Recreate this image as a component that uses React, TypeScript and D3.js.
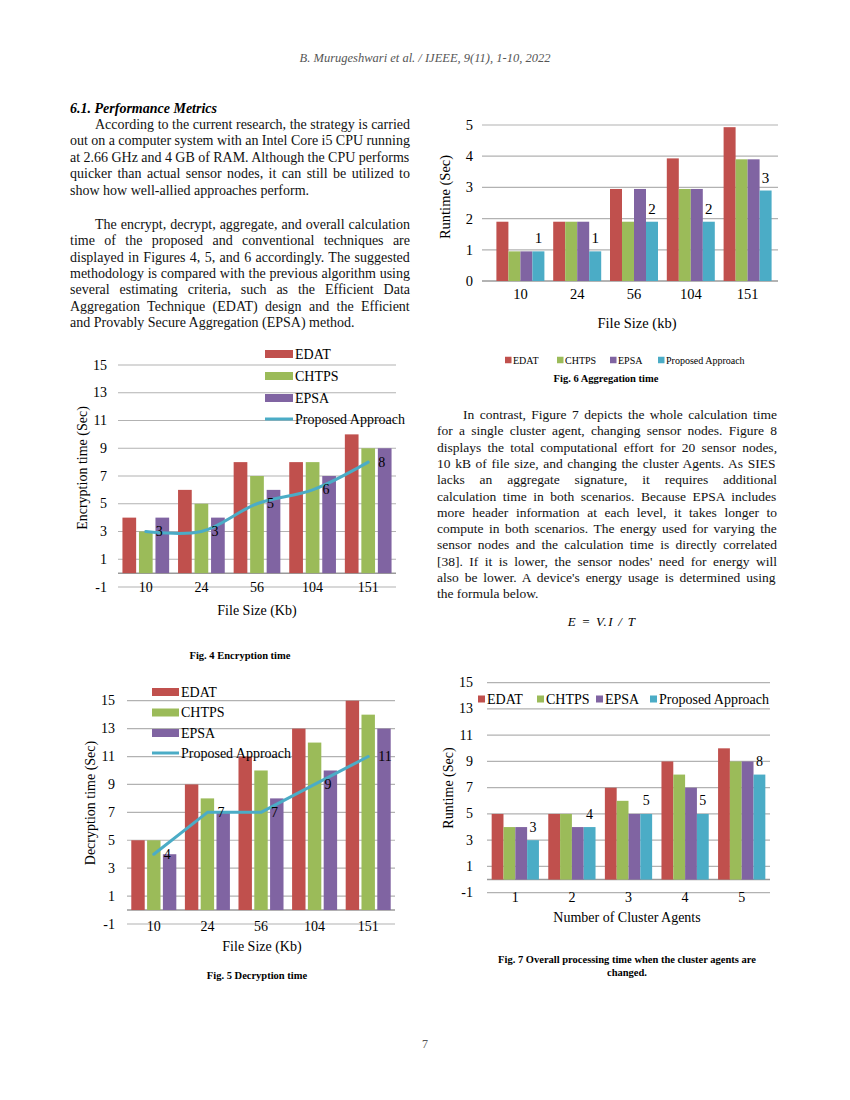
import React from "react";
import * as d3 from "d3";

// ---------- data ----------
const SERIES = ["EDAT", "CHTPS", "EPSA", "Proposed Approach"];
const COLORS = ["#c0504d", "#9bbb59", "#8064a2", "#4bacc6"];

const fileSizes = ["10", "24", "56", "104", "151"];
const clusterAgents = ["1", "2", "3", "4", "5"];

// Fig. 4 Encryption time
const encEDAT = [4, 6, 8, 8, 10];
const encCHTPS = [3, 5, 7, 8, 9];
const encEPSA = [4, 4, 6, 7, 9];
const encProposed = [3, 3, 5, 6, 8];

// Fig. 5 Decryption time
const decEDAT = [5, 9, 11, 13, 15];
const decCHTPS = [5, 8, 10, 12, 14];
const decEPSA = [4, 7, 8, 10, 13];
const decProposed = [4, 7, 7, 9, 11];

// Fig. 6 Aggregation time
const aggEDAT = [1.9, 1.9, 2.95, 3.93, 4.93];
const aggCHTPS = [0.95, 1.9, 1.9, 2.95, 3.9];
const aggEPSA = [0.95, 1.9, 2.95, 2.95, 3.9];
const aggProposed = [0.95, 0.95, 1.9, 1.9, 2.9];

// Fig. 7 Overall processing time
const totEDAT = [5, 5, 7, 9, 10];
const totCHTPS = [4, 5, 6, 8, 9];
const totEPSA = [4, 4, 5, 7, 9];
const totProposed = [3, 4, 5, 5, 8];

const oddTicks = [-1, 1, 3, 5, 7, 9, 11, 13, 15];
const aggTicks = [0, 1, 2, 3, 4, 5];

// ---------- page text ----------
const header = "B. Murugeshwari et al. / IJEEE, 9(11), 1-10, 2022";
const heading = "6.1. Performance Metrics";
const leftPara1 = [
  "According to the current research, the strategy is carried",
  "out on a computer system with an Intel Core i5 CPU running",
  "at 2.66 GHz and 4 GB of RAM. Although the CPU performs",
  "quicker than actual sensor nodes, it can still be utilized to",
  "show how well-allied approaches perform.",
];
const leftPara2 = [
  "The encrypt, decrypt, aggregate, and overall calculation",
  "time of the proposed and conventional techniques are",
  "displayed in Figures 4, 5, and 6 accordingly. The suggested",
  "methodology is compared with the previous algorithm using",
  "several estimating criteria, such as the Efficient Data",
  "Aggregation Technique (EDAT) design and the Efficient",
  "and Provably Secure Aggregation (EPSA) method.",
];
const rightPara = [
  "In contrast, Figure 7 depicts the whole calculation time",
  "for a single cluster agent, changing sensor nodes. Figure 8",
  "displays the total computational effort for 20 sensor nodes,",
  "10 kB of file size, and changing the cluster Agents. As SIES",
  "lacks an aggregate signature, it requires additional",
  "calculation time in both scenarios. Because EPSA includes",
  "more header information at each level, it takes longer to",
  "compute in both scenarios. The energy used for varying the",
  "sensor nodes and the calculation time is directly correlated",
  "[38]. If it is lower, the sensor nodes' need for energy will",
  "also be lower. A device's energy usage is determined using",
  "the formula below.",
];
const formula = "E = V.I / T";
const pageNumber = "7";

const FONT = "'Liberation Serif', 'Times New Roman', serif";
const GRID = "#b2b2b2";

let measureCtx: CanvasRenderingContext2D | null = null;
function measure(text: string, fs: number): number {
  if (typeof document === "undefined") return text.length * fs * 0.45;
  if (!measureCtx) {
    const c = document.createElement("canvas");
    measureCtx = c.getContext("2d");
  }
  if (!measureCtx) return text.length * fs * 0.45;
  measureCtx.font = `${fs}px 'Liberation Serif'`;
  return measureCtx.measureText(text).width;
}

type ChartCfg = {
  categories: string[];
  bars: number[][];
  barColors: string[];
  line?: number[];
  lineSmooth?: boolean;
  barLabels?: number[];
  xRange: [number, number];
  gridX: [number, number];
  yDomain: [number, number];
  yRange: [number, number];
  yTicks: number[];
  groupFrac: number;
  barGap: number;
  tickRight: number;
  xTickY: number;
  fs: number;
  xTitle: string;
  xTitlePos: [number, number];
  yTitle: string;
  yTitlePos: [number, number];
  labelFs: number;
  legend: {
    kind: "vertical" | "horizontal";
    x: number[];
    y: number[];
    swW: number;
    swH: number;
    textDx: number;
    fs: number;
  };
  caption: string[];
  captionPos: [number, number];
};

function Chart({ cfg }: { cfg: ChartCfg }) {
  const x0 = d3.scaleBand<string>().domain(cfg.categories).range(cfg.xRange).padding(0);
  const step = x0.bandwidth();
  const nb = cfg.bars.length;
  const inset = (step * (1 - cfg.groupFrac)) / 2;
  const x1 = d3
    .scaleBand<string>()
    .domain(d3.range(nb).map(String))
    .range([inset, step - inset])
    .paddingInner(cfg.barGap);
  const y = d3.scaleLinear().domain(cfg.yDomain).range(cfg.yRange);
  const cx = (c: string) => (x0(c) as number) + step / 2;

  const lineGen = d3
    .line<number>()
    .x((_, i) => cx(cfg.categories[i]))
    .y((d) => y(d))
    .curve(cfg.lineSmooth ? d3.curveCatmullRom.alpha(0.5) : d3.curveLinear);

  const gridVals = Array.from(new Set([...cfg.yTicks, 0]));
  const lg = cfg.legend;

  return (
    <g fontFamily={FONT} fill="#000">
      {gridVals.map((v) => (
        <line
          key={"g" + v}
          x1={cfg.gridX[0]}
          x2={cfg.gridX[1]}
          y1={y(v)}
          y2={y(v)}
          stroke={v === 0 ? "#9a9a9a" : GRID}
          strokeWidth={v === 0 ? 1.5 : 1.2}
        />
      ))}
      {cfg.yTicks.map((v) => (
        <text
          key={"yt" + v}
          x={cfg.tickRight}
          y={y(v)}
          fontSize={cfg.fs}
          textAnchor="end"
          dominantBaseline="central"
        >
          {v}
        </text>
      ))}
      {cfg.bars.map((vals, s) =>
        vals.map((v, i) => {
          const c = cfg.categories[i];
          const bx = (x0(c) as number) + (x1(String(s)) as number);
          return (
            <rect
              key={"b" + s + "-" + i}
              x={bx}
              y={y(v)}
              width={x1.bandwidth()}
              height={y(0) - y(v)}
              fill={cfg.barColors[s]}
            />
          );
        })
      )}
      {cfg.barLabels &&
        cfg.barLabels.map((v, i) => {
          const c = cfg.categories[i];
          const s = nb - 1;
          const bx = (x0(c) as number) + (x1(String(s)) as number) + x1.bandwidth() / 2;
          return (
            <text
              key={"bl" + i}
              x={bx}
              y={y(v) - 13}
              fontSize={cfg.labelFs}
              textAnchor="middle"
              dominantBaseline="central"
            >
              {Math.round(v)}
            </text>
          );
        })}
      {cfg.line && (
        <>
          <path
            d={lineGen(cfg.line) || ""}
            fill="none"
            stroke={COLORS[3]}
            strokeWidth={3}
            strokeLinejoin="round"
            strokeLinecap="round"
          />
          {cfg.line.map((v, i) => (
            <text
              key={"ll" + i}
              x={cx(cfg.categories[i]) + 10}
              y={y(v)}
              fontSize={cfg.labelFs}
              dominantBaseline="central"
            >
              {v}
            </text>
          ))}
        </>
      )}
      {cfg.categories.map((c) => (
        <text
          key={"xt" + c}
          x={cx(c)}
          y={cfg.xTickY}
          fontSize={cfg.fs}
          textAnchor="middle"
          dominantBaseline="central"
        >
          {c}
        </text>
      ))}
      <text
        x={cfg.xTitlePos[0]}
        y={cfg.xTitlePos[1]}
        fontSize={cfg.fs}
        textAnchor="middle"
        dominantBaseline="central"
      >
        {cfg.xTitle}
      </text>
      <text
        transform={`translate(${cfg.yTitlePos[0]},${cfg.yTitlePos[1]}) rotate(-90)`}
        fontSize={cfg.fs}
        textAnchor="middle"
        dominantBaseline="central"
      >
        {cfg.yTitle}
      </text>
      {SERIES.map((name, i) => {
        const lx = lg.kind === "vertical" ? lg.x[0] : lg.x[i];
        const ly = lg.kind === "vertical" ? lg.y[i] : lg.y[0];
        const isLine = lg.kind === "vertical" && i === 3;
        return (
          <g key={"lg" + i}>
            {isLine ? (
              <line x1={lx} x2={lx + lg.swW} y1={ly} y2={ly} stroke={COLORS[3]} strokeWidth={3} />
            ) : (
              <rect x={lx} y={ly - lg.swH / 2} width={lg.swW} height={lg.swH} fill={COLORS[i]} />
            )}
            <text x={lx + lg.swW + lg.textDx} y={ly} fontSize={lg.fs} dominantBaseline="central">
              {name}
            </text>
          </g>
        );
      })}
      {cfg.caption.map((t, i) => (
        <text
          key={"cap" + i}
          x={cfg.captionPos[0]}
          y={cfg.captionPos[1] + i * 13}
          fontSize={10.5}
          fontWeight="bold"
          textAnchor="middle"
          dominantBaseline="central"
        >
          {t}
        </text>
      ))}
    </g>
  );
}

const fig4: ChartCfg = {
  categories: fileSizes,
  bars: [encEDAT, encCHTPS, encEPSA],
  barColors: COLORS.slice(0, 3),
  line: encProposed,
  lineSmooth: true,
  xRange: [118, 396],
  gridX: [118, 396],
  yDomain: [-1, 15],
  yRange: [587, 365],
  yTicks: oddTicks,
  groupFrac: 0.84,
  barGap: 0.17,
  tickRight: 107,
  xTickY: 587,
  fs: 14,
  xTitle: "File Size (Kb)",
  xTitlePos: [257, 610],
  yTitle: "Encryption time (Sec)",
  yTitlePos: [82, 468],
  labelFs: 14,
  legend: { kind: "vertical", x: [265], y: [354, 376, 398, 419], swW: 28, swH: 8, textDx: 2, fs: 14 },
  caption: ["Fig. 4 Encryption time"],
  captionPos: [240, 655],
};

const fig5: ChartCfg = {
  categories: fileSizes,
  bars: [decEDAT, decCHTPS, decEPSA],
  barColors: COLORS.slice(0, 3),
  line: decProposed,
  lineSmooth: false,
  xRange: [127, 395],
  gridX: [127, 395],
  yDomain: [-1, 15],
  yRange: [924, 700.7],
  yTicks: oddTicks,
  groupFrac: 0.84,
  barGap: 0.15,
  tickRight: 115,
  xTickY: 926,
  fs: 14,
  xTitle: "File Size (Kb)",
  xTitlePos: [262, 946],
  yTitle: "Decryption time (Sec)",
  yTitlePos: [90, 803],
  labelFs: 14,
  legend: { kind: "vertical", x: [152], y: [692, 712.5, 733, 753], swW: 27, swH: 8, textDx: 2, fs: 14 },
  caption: ["Fig. 5 Decryption time"],
  captionPos: [257, 975],
};

const fig6: ChartCfg = {
  categories: fileSizes,
  bars: [aggEDAT, aggCHTPS, aggEPSA, aggProposed],
  barColors: COLORS,
  barLabels: aggProposed,
  xRange: [492, 776],
  gridX: [482, 778],
  yDomain: [0, 5],
  yRange: [281, 125],
  yTicks: aggTicks,
  groupFrac: 0.845,
  barGap: 0,
  tickRight: 473,
  xTickY: 294,
  fs: 14.5,
  xTitle: "File Size (kb)",
  xTitlePos: [637, 323],
  yTitle: "Runtime (Sec)",
  yTitlePos: [445, 197],
  labelFs: 15,
  legend: { kind: "horizontal", x: [505, 557, 610, 658], y: [360], swW: 6.5, swH: 6.5, textDx: 1.5, fs: 10 },
  caption: ["Fig. 6 Aggregation time"],
  captionPos: [606, 378],
};

const fig7: ChartCfg = {
  categories: clusterAgents,
  bars: [totEDAT, totCHTPS, totEPSA, totProposed],
  barColors: COLORS,
  barLabels: totProposed,
  xRange: [487, 770],
  gridX: [487, 770],
  yDomain: [-1, 15],
  yRange: [892.7, 682.7],
  yTicks: oddTicks,
  groupFrac: 0.835,
  barGap: 0,
  tickRight: 473,
  xTickY: 897,
  fs: 14,
  xTitle: "Number of Cluster Agents",
  xTitlePos: [627, 917],
  yTitle: "Runtime (Sec)",
  yTitlePos: [448, 788],
  labelFs: 14,
  legend: { kind: "horizontal", x: [478, 537, 596, 650], y: [699], swW: 7, swH: 7, textDx: 2, fs: 14 },
  caption: ["Fig. 7 Overall processing time when the cluster agents are", "changed."],
  captionPos: [627, 959],
};

function Para({
  lines,
  x,
  y,
  width,
  lh,
  fs,
  indent,
}: {
  lines: string[];
  x: number;
  y: number;
  width: number;
  lh: number;
  fs: number;
  indent: number;
}) {
  return (
    <g fontFamily={FONT} fontSize={fs} fill="#111">
      {lines.map((t, i) => {
        const dx = i === 0 ? indent : 0;
        const last = i === lines.length - 1;
        const spaces = (t.match(/ /g) || []).length;
        let ws = 0;
        if (!last && spaces > 0) {
          const nat = measure(t, fs);
          ws = (width - dx - nat) / spaces;
        }
        return (
          <text key={i} x={x + dx} y={y + i * lh} style={{ wordSpacing: `${ws}px` }}>
            {t}
          </text>
        );
      })}
    </g>
  );
}

export default function App() {
  return (
    <svg
      width={850}
      height={1100}
      viewBox="0 0 850 1100"
      style={{ position: "absolute", left: 0, top: 0, background: "#fff" }}
    >
      <rect x={0} y={0} width={850} height={1100} fill="#fff" />
      <text
        x={425}
        y={62}
        fontFamily={FONT}
        fontSize={12.5}
        fontStyle="italic"
        textAnchor="middle"
        fill="#555"
      >
        {header}
      </text>
      <text x={70} y={113} fontFamily={FONT} fontSize={14} fontWeight="bold" fontStyle="italic">
        {heading}
      </text>
      <Para lines={leftPara1} x={70} y={129} width={340} lh={16.4} fs={14} indent={25} />
      <Para lines={leftPara2} x={70} y={229} width={340} lh={16.3} fs={14} indent={25} />
      <Para lines={rightPara} x={437} y={419} width={340} lh={16.3} fs={13.5} indent={26} />
      <text
        x={602}
        y={626}
        fontFamily={FONT}
        fontSize={13}
        fontStyle="italic"
        textAnchor="middle"
        letterSpacing={1.3}
        style={{ whiteSpace: "pre" }}
      >
        {formula}
      </text>
      <text x={425} y={1048} fontFamily={FONT} fontSize={12} textAnchor="middle" fill="#555">
        {pageNumber}
      </text>
      <Chart cfg={fig4} />
      <Chart cfg={fig5} />
      <Chart cfg={fig6} />
      <Chart cfg={fig7} />
    </svg>
  );
}
